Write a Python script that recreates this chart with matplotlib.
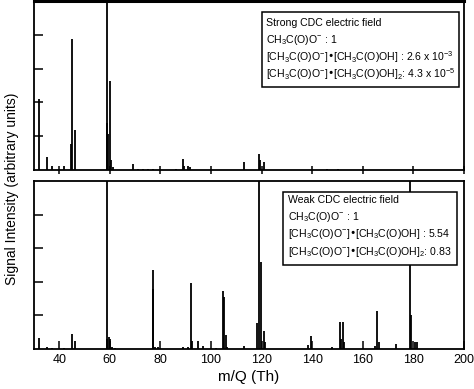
import numpy as np
import matplotlib
matplotlib.use("Agg")
import matplotlib.pyplot as plt
from matplotlib.patches import Rectangle

plt.rcParams['font.family'] = ['Liberation Sans', 'DejaVu Sans']
plt.rcParams['mathtext.default'] = 'regular'

# Strong field spectrum (m/Q, intensity). 59 is off scale.
strong_mq = [32.1, 35.0, 37.0, 42.0, 44.8, 45.1, 46.1, 58.8, 59.0, 59.4, 60.0,
             60.4, 61.2, 69.0, 71.0, 73.0, 75.0, 77.0, 86.0, 88.8, 89.3, 90.9,
             91.5, 113.0, 118.8, 119.5, 120.8, 146.0, 150.0]
strong_int = [2.1, 0.38, 0.13, 0.12, 0.77, 3.87, 1.19, 1.4, 20.0, 1.05, 2.63,
              0.3, 0.1, 0.17, 0.04, 0.04, 0.04, 0.04, 0.04, 0.33, 0.12, 0.12,
              0.08, 0.25, 0.47, 0.3, 0.25, 0.03, 0.04]

# Weak field spectrum. 59, 119 and 179 are off scale.
weak_mq = [32.1, 35.0, 37.0, 42.0, 44.9, 46.1, 58.7, 59.0, 59.5, 60.2, 61.0,
           62.0, 76.9, 77.2, 78.0, 79.0, 89.0, 91.0, 91.9, 92.3, 95.0, 97.0,
           102.0, 104.8, 105.1, 106.0, 106.5, 113.0, 118.3, 119.0, 119.7,
           120.8, 121.3, 138.5, 139.4, 148.0, 150.8, 151.3, 152.1, 152.5,
           164.8, 165.7, 166.2, 173.0, 178.7, 179.2, 180.7, 181.5]
weak_int = [0.33, 0.06, 0.03, 0.03, 0.44, 0.24, 0.3, 20.0, 0.35, 0.3, 0.05,
            0.03, 2.34, 1.8, 0.05, 0.05, 0.06, 0.05, 1.97, 0.25, 0.24, 0.08,
            0.04, 1.73, 1.54, 0.43, 0.05, 0.1, 0.77, 20.0, 2.6,
            0.54, 0.2, 0.12, 0.38, 0.05, 0.81, 0.3, 0.79, 0.2,
            0.08, 1.12, 0.2, 0.14, 20.0, 1.0, 0.2, 0.2]

xticks = [40, 60, 80, 100, 120, 140, 160, 180, 200]

strong_lines = ["Strong CDC electric field",
                "CH$_3$C(O)O$^{-}$ : 1",
                "[CH$_3$C(O)O$^{-}$]•[CH$_3$C(O)OH] : 2.6 x 10$^{-3}$",
                "[CH$_3$C(O)O$^{-}$]•[CH$_3$C(O)OH]$_2$: 4.3 x 10$^{-5}$"]
weak_lines = ["Weak CDC electric field",
              "CH$_3$C(O)O$^{-}$ : 1",
              "[CH$_3$C(O)O$^{-}$]•[CH$_3$C(O)OH] : 5.54",
              "[CH$_3$C(O)O$^{-}$]•[CH$_3$C(O)OH]$_2$: 0.83"]


def style_axis(ax, xdir):
    ax.set_xlim(30, 200)
    ax.set_ylim(0, 5)
    ax.set_yticks([1, 2, 3, 4])
    ax.set_yticklabels([])
    ax.set_xticks(xticks)
    ax.tick_params(axis='y', direction='in', length=6.5, width=1.1)
    ax.tick_params(axis='x', direction=xdir, length=6, width=1.1, labelsize=9)
    for s in ax.spines.values():
        s.set_linewidth(1.3)


def draw_box(ax, x0, y0, w, h, tx, ty, lines):
    ax.add_patch(Rectangle((x0, y0), w, h, transform=ax.transAxes,
                           facecolor='white', edgecolor='black', lw=1.1, zorder=5))
    for t, y in zip(lines, ty):
        ax.text(tx, y, t, transform=ax.transAxes, fontsize=7.6, va='center',
                ha='left', zorder=6)


fig = plt.figure(figsize=(4.74, 3.89), dpi=100)
ax1 = fig.add_axes([0.0717, 0.563, 0.9072, 0.4345])
ax2 = fig.add_axes([0.0717, 0.1028, 0.9072, 0.4319])

ax1.vlines(strong_mq, 0, strong_int, color='black', lw=1.3)
ax2.vlines(weak_mq, 0, weak_int, color='black', lw=1.3)

style_axis(ax1, 'inout')
ax1.set_xticklabels([])
style_axis(ax2, 'in')
ax2.set_xticklabels([str(t) for t in xticks])
ax1.spines['top'].set_linewidth(2.2)

draw_box(ax1, 0.530, 0.491, 0.458, 0.444, 0.539,
         [0.872, 0.772, 0.665, 0.568], strong_lines)
draw_box(ax2, 0.579, 0.5, 0.405, 0.436, 0.591,
         [0.887, 0.788, 0.683, 0.58], weak_lines)

ax2.set_xlabel('m/Q (Th)', fontsize=11, labelpad=3)
fig.text(0.025, 0.515, 'Signal Intensity (arbitrary units)', rotation=90,
         fontsize=10, ha='center', va='center')

fig.savefig('out.png', dpi=100)
